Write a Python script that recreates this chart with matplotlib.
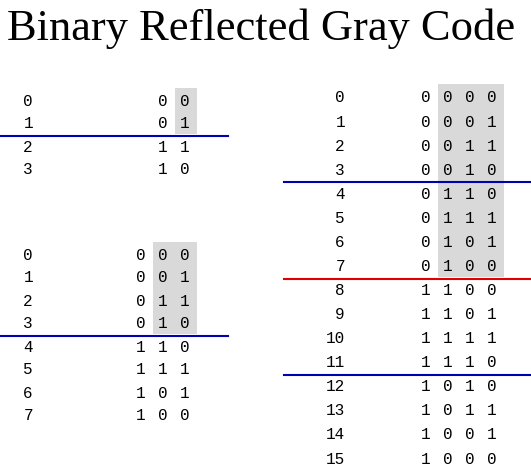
import matplotlib
matplotlib.use("Agg")
import matplotlib.pyplot as plt
from matplotlib.patches import Rectangle

title = "Binary Reflected Gray Code"
codes2 = ["00", "01", "11", "10"]
codes3 = ["000", "001", "011", "010", "110", "111", "101", "100"]
codes4 = ["0000", "0001", "0011", "0010", "0110", "0111", "0101", "0100",
          "1100", "1101", "1111", "1110", "1010", "1011", "1001", "1000"]

W, H = 531, 476
fig = plt.figure(figsize=(W/100, H/100), dpi=100)
ax = fig.add_axes([0, 0, 1, 1])
ax.set_xlim(0, W); ax.set_ylim(H, 0); ax.axis("off")

ax.text(261, 29, title, ha="center", va="center", fontsize=32,
        family="Liberation Serif")

mono = dict(family="Liberation Mono", fontsize=11.5, va="center")
dx = 22

def block(codes, num_x, code_x, y0, dy, box_cols, box_rows, lines, line_x):
    n = len(codes[0])
    for i, c in enumerate(codes):
        y = y0 + i*dy
        ax.text(num_x, y, str(i), ha="right", **mono)
        for j, ch in enumerate(c):
            ax.text(code_x + j*dx, y, ch, ha="center", **mono)
    c0 = n - box_cols
    ax.add_patch(Rectangle((code_x + c0*dx - dx/2 + 1, y0 - dy/2 - 1.5),
                           box_cols*dx, box_rows*dy,
                           color="#d9d9d9", zorder=0, lw=0))
    for k, col in lines:
        y = y0 + (k - 0.5)*dy
        ax.plot(line_x, [y, y], color=col, lw=1.5)

block(codes2, 33, 163, 101, 23, 1, 2, [(2, "#0000b0")], [0, 228])
block(codes3, 33, 141, 255, 23, 2, 4, [(4, "#0000b0")], [0, 228])
block(codes4, 345, 426, 98, 24.07, 3, 8,
      [(4, "#0000b0"), (8, "#e00000"), (12, "#0000b0")], [284, 531])

fig.savefig("out.png", dpi=100)
